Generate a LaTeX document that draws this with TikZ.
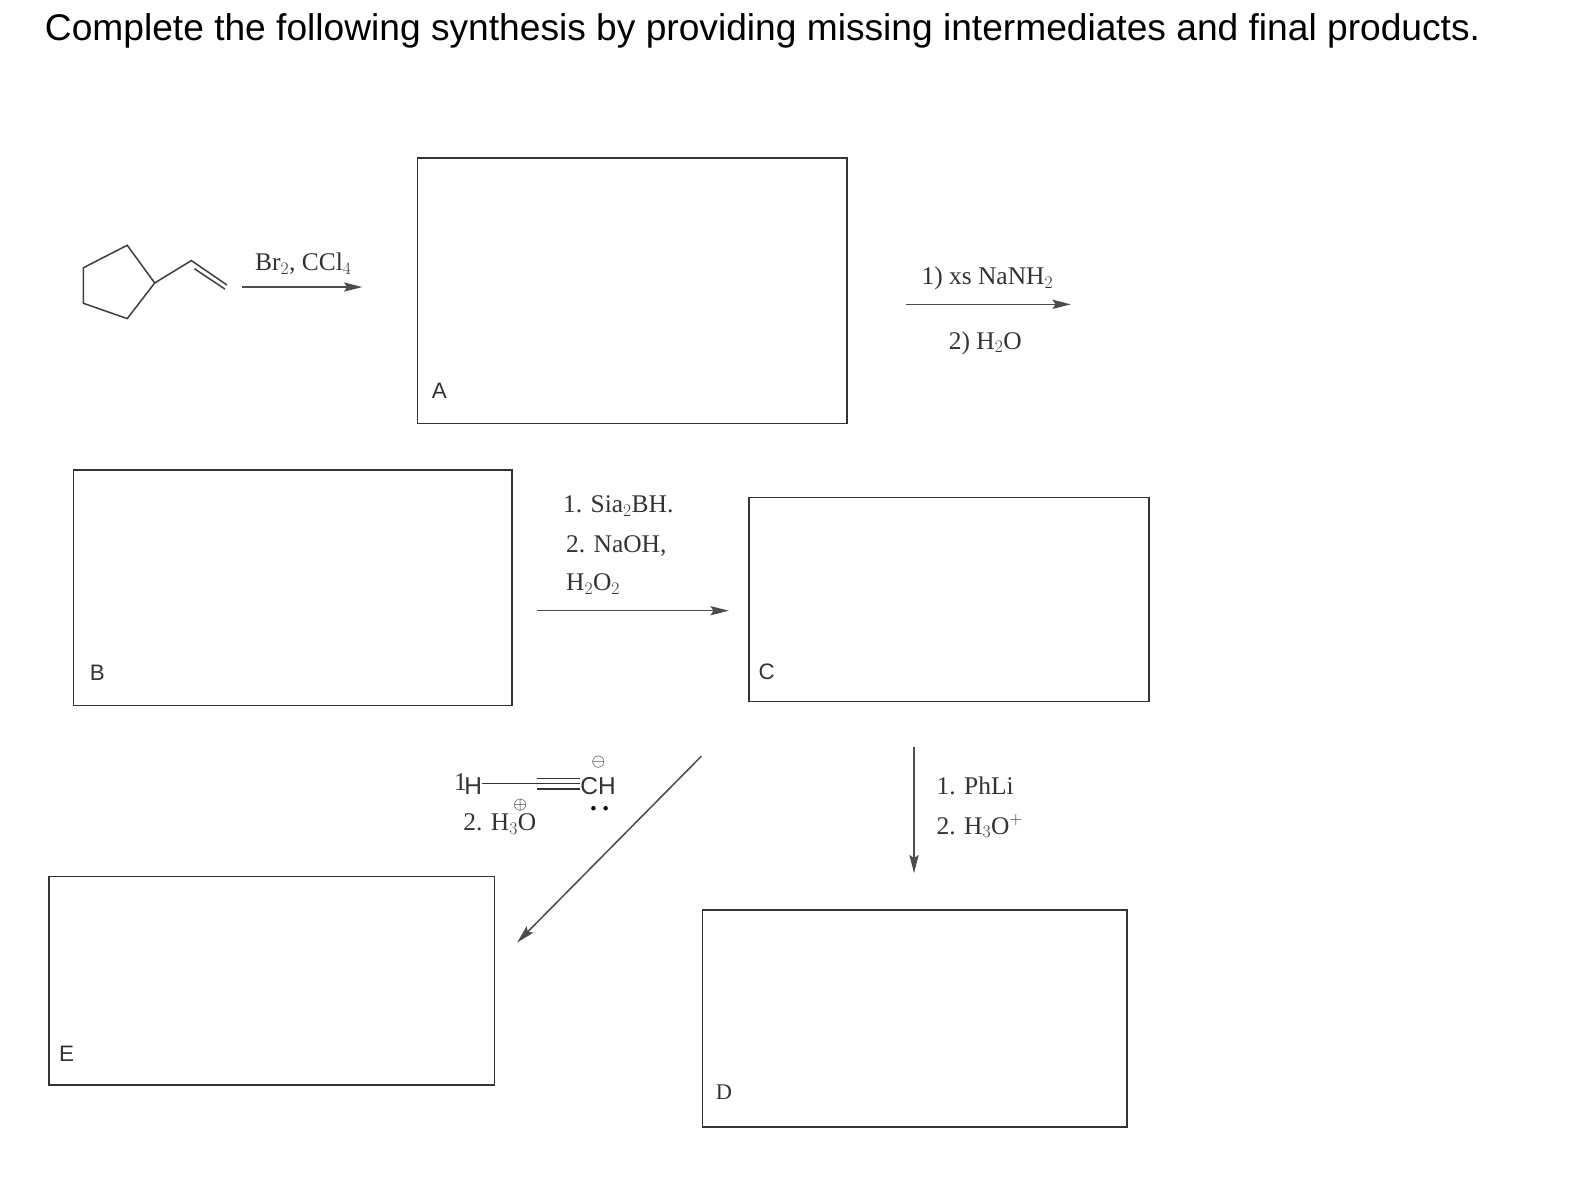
\documentclass[tikz,border=0pt]{standalone}
\usepackage{fontspec}
\setmainfont{Liberation Serif}
\newfontfamily\sans{Liberation Sans}
\usetikzlibrary{arrows.meta}
\begin{document}
\begin{tikzpicture}[x=1pt,y=-1pt,
  box/.style={draw=black!80,line width=1.5pt},
  arr/.style={draw=black!70,line width=1.5pt,-{Stealth[length=18pt,width=9pt,inset=3pt]}},
  rg/.style={font=\fontsize{25}{27}\selectfont,text=black!80,inner sep=0pt},
  lab/.style={font=\sans\fontsize{22}{24}\selectfont,text=black!80,inner sep=0pt,anchor=south west}]
\useasboundingbox (0,0) rectangle (1568,1169);
\node[font=\sans\fontsize{36.5}{40}\selectfont,anchor=west,inner sep=0pt] (t) at (44,30) {Complete the following synthesis by providing missing intermediates and final products.};
% boxes
\draw[box] (410,155) rectangle (832,416);
\draw[box] (72,462) rectangle (503,693);
\draw[box] (736,489) rectangle (1129,689);
\draw[box] (48,861) rectangle (486,1066);
\draw[box] (690,894) rectangle (1107,1107);
\node[lab] (A) at (424,392) {A};
\node[lab] (B) at (88,669) {B};
\node[lab] (C) at (745,668) {C};
\node[lab] (E) at (58,1043) {E};
\node[lab,font=\fontsize{22}{24}\selectfont] (D) at (703,1080) {D};
% starting material
\draw[black!75,line width=1.5pt] (82,263)--(125,241)--(152,278)--(125,313)--(82,298)--cycle;
\draw[black!75,line width=1.5pt] (152,278)--(188,256)--(223,280);
\draw[black!75,line width=1.5pt] (191,264)--(221,284);
% arrow 1
\coordinate (a1s) at (238,282); \coordinate (a1e) at (356,282);
\draw[arr] (a1s)--(a1e);
\node[rg,anchor=south] at (298,270) {Br$_2$, CCl$_4$};
% arrow 2
\coordinate (a2s) at (890,299); \coordinate (a2e) at (1052,299);
\draw[arr] (a2s)--(a2e);
\node[rg,anchor=south] at (970,285) {1) xs NaNH$_2$};
\node[rg] at (968,337) {2) H$_2$O};
% arrow 3
\coordinate (a3s) at (528,600); \coordinate (a3e) at (716,600);
\draw[arr] (a3s)--(a3e);
\node[rg,anchor=west] at (553,497) {1. Sia$_2$BH.};
\node[rg,anchor=west] at (556,536) {2. NaOH,};
\node[rg,anchor=west] at (556,574) {H$_2$O$_2$};
% arrow 4
\coordinate (a4s) at (898,734); \coordinate (a4e) at (898,858);
\draw[arr] (a4s)--(a4e);
\node[rg,anchor=west] at (920,772) {1. PhLi};
\node[rg,anchor=west] at (920,812) {2. H$_3$O$^+$};
% arrow 5
\coordinate (a5s) at (689,743); \coordinate (a5e) at (508,926);
\draw[arr] (a5s)--(a5e);
\node[rg,anchor=west] at (446,768) {1};
\node[rg,anchor=west,font=\sans\fontsize{24}{26}\selectfont] (h1) at (456,772) {H};
\draw[black!80,line width=1.3pt] (474,770)--(528,770);
\draw[black!80,line width=1.3pt] (528,765)--(570,765) (528,770)--(570,770) (528,775)--(570,775);
\node[rg,anchor=west,font=\sans\fontsize{24}{26}\selectfont] (ch) at (570,772) {CH};
\node[inner sep=0pt,font=\fontsize{16}{16}\selectfont] at (588,749) {$\ominus$};
\fill (583,794) circle (2.2pt) (595,794) circle (2.2pt);
\node[rg,anchor=west] at (455,810) {2. H$_3$O};
\node[inner sep=0pt,font=\fontsize{16}{16}\selectfont] at (511,791) {$\oplus$};
\end{tikzpicture}
\end{document}
